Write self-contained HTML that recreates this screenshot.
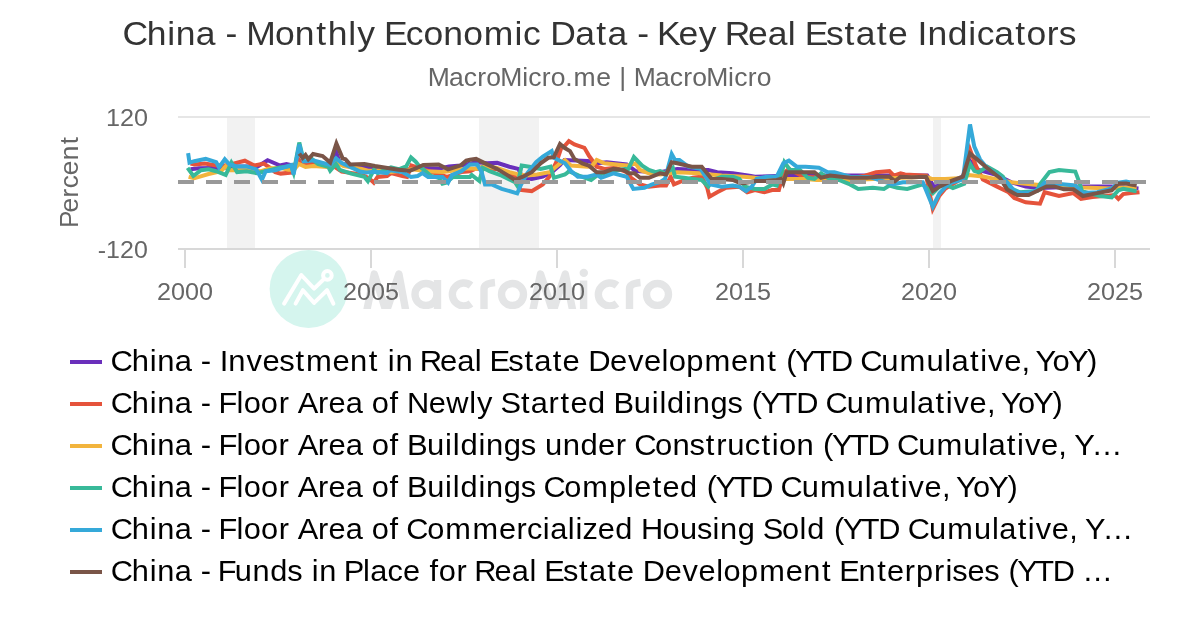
<!DOCTYPE html>
<html><head><meta charset="utf-8"><style>
html,body{margin:0;padding:0;background:#fff;width:1200px;height:630px;overflow:hidden}
svg{display:block;will-change:transform}
text{font-family:"Liberation Sans", sans-serif}
</style></head><body>
<svg width="1200" height="630" viewBox="0 0 1200 630">
<rect width="1200" height="630" fill="#fff"/>
<rect x="227" y="117" width="28" height="132" fill="#f2f2f2"/>
<rect x="479" y="117" width="60" height="132" fill="#f2f2f2"/>
<rect x="933" y="117" width="8" height="132" fill="#f2f2f2"/>
<rect x="178" y="116" width="972" height="2" fill="#e6e6e6"/>
<rect x="178" y="248" width="972" height="2" fill="#d8d8d8"/>
<rect x="184" y="250" width="2" height="18" fill="#d8d8d8"/>
<rect x="370" y="250" width="2" height="18" fill="#d8d8d8"/>
<rect x="556" y="250" width="2" height="18" fill="#d8d8d8"/>
<rect x="742" y="250" width="2" height="18" fill="#d8d8d8"/>
<rect x="928" y="250" width="2" height="18" fill="#d8d8d8"/>
<rect x="1114" y="250" width="2" height="18" fill="#d8d8d8"/>
<g id="wm">
<circle cx="308.6" cy="289" r="39" fill="#d5f5ee"/>
<g fill="none" stroke="#fff" stroke-width="4" stroke-linecap="round" stroke-linejoin="round"><path d="M284.1 303.6 L301.3 275 L314.1 288.6 L323.5 279.5"/><path d="M295.6 303.6 L302.9 290.2 L314.1 302.9 L327 290.2 L333.4 303.6"/><circle cx="327.4" cy="275.4" r="4.3"/></g>
<defs><clipPath id="wmc"><rect x="300" y="250" width="400" height="59"/></clipPath></defs>
<g clip-path="url(#wmc)" fill="none" stroke="#e4e5e6" stroke-width="7.4" stroke-linejoin="round" stroke-linecap="butt"><path d="M366.5 312 L374.3 274 L386.2 312 L398.9 274 L406 312"/><circle cx="426" cy="294.5" r="11"/><path d="M437.5 280 V312"/><path d="M471 285.5 A11.5 11.5 0 1 0 471 303.5"/><path d="M484 312 V289 Q484 283.5 495 282.5"/><circle cx="512.5" cy="294.5" r="11"/><path d="M532.5 312 L540.5 274 L552.9 312 L565.3 274 L573 312"/><path d="M583.6 280.5 V312"/><path d="M617 285.5 A11.5 11.5 0 1 0 617 303.5"/><path d="M629.5 312 V289 Q629.5 283.5 640.5 282.5"/><circle cx="657.5" cy="294.5" r="11"/></g><circle cx="583.8" cy="272.9" r="4.2" fill="#e4e5e6"/>
</g>
<path d="M190.5 169.3 L199.0 168.3 L213.3 167.9 L220.0 169.3 L229.5 166.4 L246.7 166.4 L256.2 167.4 L267.6 160.2 L280.0 165.5 L286.4 164.0 L295.0 166.0 L299.3 163.0 L306.0 164.0 L315.0 165.0 L330.0 164.5 L336.4 152.6 L339.8 163.1 L360.7 167.4 L370.2 168.3 L389.0 169.3 L410.0 169.0 L427.1 168.3 L438.6 168.8 L449.0 166.4 L460.5 165.5 L470.0 163.6 L476.1 162.2 L487.2 163.3 L497.2 162.8 L509.4 166.7 L518.3 168.9 L522.8 177.8 L531.7 178.9 L542.8 176.7 L552.0 172.0 L560.0 165.0 L564.4 160.0 L587.8 161.1 L596.7 163.3 L606.7 162.2 L626.7 164.4 L635.6 171.1 L660.0 172.2 L677.2 168.9 L699.4 170.0 L708.3 170.0 L717.2 172.2 L732.8 173.3 L749.4 175.6 L755.0 176.7 L792.2 175.6 L844.4 175.6 L856.1 175.6 L927.2 175.6 L933.9 186.7 L945.0 184.4 L962.9 176.6 L970.0 160.9 L977.1 169.4 L997.1 175.1 L1011.4 182.3 L1025.7 186.6 L1040.0 188.0 L1081.0 186.4 L1111.7 186.4 L1138.5 188.4" fill="none" stroke="#6a2fbb" stroke-width="4" stroke-linejoin="miter" stroke-linecap="butt"/>
<path d="M190.5 163.6 L194.3 164.5 L204.8 163.6 L216.2 165.5 L224.8 165.5 L233.3 163.6 L244.8 160.7 L254.3 165.5 L263.8 163.6 L269.5 167.4 L275.2 172.1 L280.7 173.6 L291.2 172.6 L297.9 158.3 L300.7 162.1 L306.4 164.0 L315.0 164.0 L332.1 165.0 L341.7 171.7 L356.0 173.6 L365.5 176.4 L370.2 179.3 L373.8 182.6 L377.6 176.9 L387.1 176.0 L391.0 173.1 L402.4 176.0 L407.1 176.9 L411.4 165.5 L425.0 170.0 L447.1 176.9 L461.4 172.1 L470.0 171.2 L476.0 168.5 L497.0 169.0 L509.0 173.0 L515.0 177.0 L520.6 190.0 L531.7 191.1 L542.8 184.4 L549.4 176.7 L557.2 160.0 L561.7 146.7 L565.0 145.6 L568.9 141.1 L574.4 144.4 L584.4 147.8 L588.9 155.6 L596.7 166.7 L604.4 168.9 L615.6 167.8 L626.7 172.2 L631.1 177.8 L640.0 184.4 L648.9 186.7 L660.0 185.6 L666.1 185.6 L670.6 176.7 L673.9 184.4 L681.7 181.1 L692.8 177.8 L701.7 176.7 L707.2 187.8 L709.4 196.7 L717.2 192.2 L726.1 187.8 L739.4 186.7 L747.2 192.2 L755.0 190.0 L764.4 192.2 L772.2 190.0 L778.9 190.0 L783.3 173.3 L788.9 168.9 L803.3 176.7 L850.0 178.9 L859.4 176.7 L865.0 175.6 L876.1 172.2 L889.4 171.1 L893.9 175.6 L900.6 173.3 L905.0 174.4 L926.1 175.6 L932.8 208.9 L939.4 195.6 L945.0 188.9 L962.9 178.0 L970.0 149.5 L975.7 165.1 L982.9 179.4 L997.1 186.6 L1008.6 192.3 L1014.3 198.0 L1025.7 202.3 L1040.0 203.7 L1044.6 192.2 L1059.0 196.0 L1073.4 193.1 L1081.0 198.9 L1092.5 197.0 L1114.6 195.1 L1118.4 198.9 L1123.2 194.1 L1130.9 193.1 L1139.5 192.2" fill="none" stroke="#e5533b" stroke-width="4" stroke-linejoin="miter" stroke-linecap="butt"/>
<path d="M188.6 176.9 L194.3 178.3 L208.6 174.0 L221.0 171.2 L225.7 166.4 L229.5 170.2 L237.1 170.2 L246.7 170.2 L261.0 171.2 L270.5 168.3 L280.0 167.9 L288.3 169.8 L294.0 169.8 L298.8 164.0 L305.5 166.9 L313.1 166.0 L327.4 166.9 L336.0 162.1 L343.6 166.0 L360.7 168.8 L368.3 170.7 L375.0 170.7 L379.5 170.2 L391.0 172.1 L411.9 169.3 L427.1 171.2 L442.4 172.1 L449.0 171.2 L460.5 169.3 L470.0 168.3 L476.1 168.9 L481.7 166.7 L496.1 167.8 L509.4 172.2 L518.3 174.4 L527.2 175.6 L537.2 174.4 L549.4 172.2 L556.1 166.7 L561.7 162.2 L565.0 160.0 L571.1 165.6 L587.8 166.7 L592.2 165.6 L596.7 160.0 L604.4 163.3 L626.7 165.6 L635.6 163.3 L640.0 170.0 L648.9 173.3 L660.0 174.4 L669.4 173.3 L677.2 172.2 L699.4 173.3 L710.6 174.4 L721.7 175.6 L743.9 176.7 L755.0 177.8 L776.7 178.9 L786.7 178.9 L805.6 178.9 L816.7 180.0 L850.0 180.0 L926.1 176.7 L931.7 178.9 L945.0 178.9 L962.9 178.0 L968.6 175.1 L982.9 176.6 L997.1 179.4 L1011.4 182.3 L1025.7 183.7 L1040.0 185.1 L1044.6 183.6 L1083.0 187.4 L1111.7 188.4 L1121.3 187.4 L1136.6 188.4" fill="none" stroke="#f2b43d" stroke-width="4" stroke-linejoin="miter" stroke-linecap="butt"/>
<path d="M187.6 167.9 L193.3 176.0 L201.0 170.2 L208.6 169.3 L216.2 171.2 L225.7 175.0 L231.4 162.6 L237.1 172.1 L246.7 171.2 L256.2 173.1 L265.7 171.2 L280.0 167.4 L291.2 166.0 L293.6 172.6 L299.3 142.5 L302.6 156.4 L311.2 158.3 L317.9 164.0 L328.3 166.9 L330.2 170.7 L336.0 164.0 L339.8 169.8 L351.2 173.6 L364.5 176.9 L367.9 181.2 L374.0 169.8 L377.6 173.1 L391.0 167.4 L398.6 169.3 L406.2 166.4 L411.0 157.5 L415.7 161.7 L419.5 166.4 L423.3 169.3 L431.0 176.0 L438.6 177.9 L442.4 183.6 L446.2 182.6 L452.9 176.9 L470.0 176.9 L471.7 175.0 L479.4 181.1 L482.8 167.8 L489.4 171.1 L501.7 175.6 L515.0 182.2 L517.2 185.6 L521.7 165.6 L529.4 166.7 L540.6 168.9 L550.6 166.7 L553.9 177.8 L565.0 174.4 L566.7 173.3 L568.9 171.1 L578.9 175.6 L591.1 180.0 L596.7 175.6 L606.7 172.2 L625.6 168.9 L627.8 170.0 L633.9 157.0 L642.2 165.6 L648.9 170.0 L655.6 172.2 L660.0 171.1 L666.1 173.3 L672.8 167.8 L675.0 176.7 L683.9 177.8 L692.8 178.9 L701.7 180.0 L708.3 186.7 L712.8 180.0 L721.7 176.7 L732.8 176.7 L739.4 178.9 L745.0 186.7 L755.0 188.9 L764.4 188.9 L772.2 184.4 L776.7 185.6 L782.2 171.1 L784.4 162.2 L790.0 170.0 L800.0 170.0 L807.8 177.8 L814.4 178.9 L821.1 173.3 L827.8 177.8 L838.9 180.0 L850.0 184.4 L858.3 188.9 L872.8 187.8 L883.9 188.9 L889.4 185.6 L897.2 187.8 L907.2 188.9 L922.8 184.4 L932.8 193.3 L939.4 186.7 L945.0 184.4 L952.9 188.0 L964.3 183.7 L970.0 163.7 L974.3 170.9 L978.6 172.3 L987.1 166.6 L997.1 172.3 L1002.9 176.6 L1010.0 188.0 L1020.0 192.3 L1037.1 190.9 L1039.8 184.5 L1049.4 172.1 L1059.0 170.1 L1075.3 171.6 L1079.1 181.6 L1082.0 191.2 L1092.5 194.1 L1100.2 196.0 L1111.7 197.5 L1118.4 190.3 L1123.2 188.8 L1136.6 191.2" fill="none" stroke="#38b999" stroke-width="4" stroke-linejoin="miter" stroke-linecap="butt"/>
<path d="M188.1 153.1 L189.5 162.6 L194.3 161.2 L205.7 158.8 L216.2 162.1 L219.0 167.4 L224.8 159.3 L229.5 164.5 L237.1 166.4 L246.7 166.4 L256.2 169.3 L261.9 179.8 L265.7 171.2 L275.2 170.2 L291.2 165.0 L293.6 174.5 L299.3 144.5 L303.6 161.2 L306.4 161.2 L313.1 160.2 L330.2 165.0 L336.0 158.3 L341.7 163.1 L350.2 166.9 L360.7 171.7 L366.4 172.6 L375.0 171.7 L387.1 173.1 L390.0 170.2 L402.4 172.1 L411.0 176.9 L417.6 176.0 L422.4 173.1 L428.1 176.9 L442.4 176.9 L448.1 182.6 L451.9 175.0 L461.4 171.2 L470.0 164.5 L477.2 164.4 L481.7 172.2 L485.0 184.4 L491.7 184.4 L501.7 188.9 L517.2 193.3 L520.6 185.6 L527.2 173.3 L536.1 162.2 L542.8 156.7 L551.7 151.1 L553.9 157.8 L565.0 163.3 L571.1 171.1 L577.8 176.7 L587.8 176.7 L596.7 174.4 L601.1 177.8 L604.4 176.7 L613.3 173.3 L626.7 176.7 L633.3 188.9 L644.4 187.8 L652.2 184.4 L660.0 182.2 L665.0 178.9 L671.7 154.0 L675.0 160.0 L679.4 160.0 L688.3 166.7 L700.6 168.9 L710.6 184.4 L721.7 186.7 L732.8 185.6 L739.4 186.7 L746.1 191.1 L751.7 186.7 L756.7 178.9 L766.7 176.7 L776.7 176.7 L783.3 163.3 L788.9 160.6 L796.7 166.7 L805.6 166.7 L818.9 167.8 L827.8 172.2 L834.4 172.2 L850.0 176.7 L870.0 177.0 L892.8 184.4 L902.8 182.2 L922.8 182.2 L932.8 206.7 L939.4 193.3 L948.6 183.7 L962.9 179.4 L970.0 124.4 L974.3 146.6 L980.0 159.4 L987.1 168.0 L997.1 175.1 L1007.1 182.3 L1014.3 190.9 L1021.4 193.0 L1032.9 192.3 L1040.0 188.0 L1044.6 182.6 L1054.2 183.6 L1075.3 185.5 L1083.0 193.1 L1097.3 192.2 L1111.7 188.4 L1118.4 182.6 L1126.1 181.6 L1136.6 183.6" fill="none" stroke="#35a9d9" stroke-width="4" stroke-linejoin="miter" stroke-linecap="butt"/>
<path d="M299.3 153.6 L302.6 157.9 L305.5 155.0 L308.3 159.3 L313.1 154.0 L322.6 156.0 L330.2 162.6 L336.4 143.5 L342.6 158.3 L345.5 159.3 L350.2 164.5 L364.5 164.0 L375.0 166.0 L389.0 168.3 L398.6 169.8 L410.0 170.7 L415.7 168.3 L423.3 165.0 L438.6 164.5 L448.1 169.3 L460.5 165.5 L466.2 160.7 L470.0 159.8 L476.1 158.9 L487.2 164.4 L497.2 168.9 L506.1 174.4 L515.0 180.0 L522.8 176.7 L531.7 172.2 L540.6 163.3 L548.3 157.8 L553.9 157.2 L560.0 144.0 L564.4 147.8 L570.0 151.1 L574.4 158.9 L582.2 163.3 L588.9 165.6 L596.7 172.2 L604.4 172.2 L613.3 168.9 L623.3 170.0 L628.9 173.3 L634.4 173.3 L640.0 177.8 L648.9 177.8 L660.0 173.3 L666.1 174.4 L671.7 162.2 L677.2 163.3 L691.7 166.7 L701.7 166.7 L711.7 178.9 L721.7 178.9 L732.8 180.0 L738.3 182.2 L743.9 183.3 L755.6 181.1 L765.6 181.1 L776.7 180.0 L781.1 178.9 L783.3 183.3 L786.7 172.2 L798.9 172.2 L814.4 172.2 L821.1 177.8 L830.0 175.6 L850.0 177.8 L856.1 177.8 L867.2 177.8 L878.3 176.7 L889.4 176.7 L895.0 181.1 L900.6 176.7 L911.7 177.2 L926.1 176.7 L932.8 191.1 L939.4 186.7 L951.4 180.9 L962.9 176.6 L970.0 153.5 L977.1 159.4 L987.1 168.0 L1000.0 178.0 L1007.1 189.4 L1017.1 195.1 L1028.6 195.1 L1046.5 186.4 L1054.2 186.4 L1063.8 189.3 L1073.4 189.3 L1082.9 196.0 L1097.3 193.1 L1111.7 190.3 L1118.4 183.6 L1126.1 183.6 L1136.6 185.5" fill="none" stroke="#7a5548" stroke-width="4" stroke-linejoin="miter" stroke-linecap="butt"/>
<path d="M178 182 H1150" stroke="#999" stroke-width="4" stroke-dasharray="16 12"/>
<g font-size="33.60" fill="#333" ><text x="122.43" y="44.50" textLength="25.63" lengthAdjust="spacingAndGlyphs">C</text><text x="146.69" y="44.50" textLength="19.74" lengthAdjust="spacingAndGlyphs">h</text><text x="167.21" y="44.50" textLength="7.89" lengthAdjust="spacingAndGlyphs">i</text><text x="175.86" y="44.50" textLength="19.74" lengthAdjust="spacingAndGlyphs">n</text><text x="195.81" y="44.50" textLength="19.74" lengthAdjust="spacingAndGlyphs">a</text><text x="225.52" y="44.50" textLength="11.82" lengthAdjust="spacingAndGlyphs">-</text><text x="246.39" y="44.50" textLength="29.57" lengthAdjust="spacingAndGlyphs">M</text><text x="274.90" y="44.50" textLength="19.74" lengthAdjust="spacingAndGlyphs">o</text><text x="294.83" y="44.50" textLength="19.74" lengthAdjust="spacingAndGlyphs">n</text><text x="316.18" y="44.50" textLength="9.87" lengthAdjust="spacingAndGlyphs">t</text><text x="327.66" y="44.50" textLength="19.74" lengthAdjust="spacingAndGlyphs">h</text><text x="348.17" y="44.50" textLength="7.89" lengthAdjust="spacingAndGlyphs">l</text><text x="357.16" y="44.50" textLength="17.75" lengthAdjust="spacingAndGlyphs">y</text><text x="383.94" y="44.50" textLength="23.68" lengthAdjust="spacingAndGlyphs">E</text><text x="405.81" y="44.50" textLength="17.75" lengthAdjust="spacingAndGlyphs">c</text><text x="423.40" y="44.50" textLength="19.74" lengthAdjust="spacingAndGlyphs">o</text><text x="443.33" y="44.50" textLength="19.74" lengthAdjust="spacingAndGlyphs">n</text><text x="463.26" y="44.50" textLength="19.74" lengthAdjust="spacingAndGlyphs">o</text><text x="483.72" y="44.50" textLength="29.57" lengthAdjust="spacingAndGlyphs">m</text><text x="514.60" y="44.50" textLength="7.89" lengthAdjust="spacingAndGlyphs">i</text><text x="522.91" y="44.50" textLength="17.75" lengthAdjust="spacingAndGlyphs">c</text><text x="550.25" y="44.50" textLength="25.63" lengthAdjust="spacingAndGlyphs">D</text><text x="575.32" y="44.50" textLength="19.74" lengthAdjust="spacingAndGlyphs">a</text><text x="596.34" y="44.50" textLength="9.87" lengthAdjust="spacingAndGlyphs">t</text><text x="607.48" y="44.50" textLength="19.74" lengthAdjust="spacingAndGlyphs">a</text><text x="637.19" y="44.50" textLength="11.82" lengthAdjust="spacingAndGlyphs">-</text><text x="656.90" y="44.50" textLength="23.68" lengthAdjust="spacingAndGlyphs">K</text><text x="678.41" y="44.50" textLength="19.74" lengthAdjust="spacingAndGlyphs">e</text><text x="698.72" y="44.50" textLength="17.75" lengthAdjust="spacingAndGlyphs">y</text><text x="724.82" y="44.50" textLength="25.63" lengthAdjust="spacingAndGlyphs">R</text><text x="748.00" y="44.50" textLength="19.74" lengthAdjust="spacingAndGlyphs">e</text><text x="767.65" y="44.50" textLength="19.74" lengthAdjust="spacingAndGlyphs">a</text><text x="787.83" y="44.50" textLength="7.89" lengthAdjust="spacingAndGlyphs">l</text><text x="804.66" y="44.50" textLength="23.68" lengthAdjust="spacingAndGlyphs">E</text><text x="826.07" y="44.50" textLength="17.75" lengthAdjust="spacingAndGlyphs">s</text><text x="844.62" y="44.50" textLength="9.87" lengthAdjust="spacingAndGlyphs">t</text><text x="855.76" y="44.50" textLength="19.74" lengthAdjust="spacingAndGlyphs">a</text><text x="876.78" y="44.50" textLength="9.87" lengthAdjust="spacingAndGlyphs">t</text><text x="887.96" y="44.50" textLength="19.74" lengthAdjust="spacingAndGlyphs">e</text><text x="917.63" y="44.50" textLength="9.87" lengthAdjust="spacingAndGlyphs">I</text><text x="927.55" y="44.50" textLength="19.74" lengthAdjust="spacingAndGlyphs">n</text><text x="947.85" y="44.50" textLength="19.74" lengthAdjust="spacingAndGlyphs">d</text><text x="968.38" y="44.50" textLength="7.89" lengthAdjust="spacingAndGlyphs">i</text><text x="976.69" y="44.50" textLength="17.75" lengthAdjust="spacingAndGlyphs">c</text><text x="994.29" y="44.50" textLength="19.74" lengthAdjust="spacingAndGlyphs">a</text><text x="1015.31" y="44.50" textLength="9.87" lengthAdjust="spacingAndGlyphs">t</text><text x="1026.43" y="44.50" textLength="19.74" lengthAdjust="spacingAndGlyphs">o</text><text x="1046.76" y="44.50" textLength="11.82" lengthAdjust="spacingAndGlyphs">r</text><text x="1058.71" y="44.50" textLength="17.75" lengthAdjust="spacingAndGlyphs">s</text></g>
<g font-size="25.20" fill="#666" ><text x="427.73" y="85.80" textLength="22.09" lengthAdjust="spacingAndGlyphs">M</text><text x="449.11" y="85.80" textLength="14.75" lengthAdjust="spacingAndGlyphs">a</text><text x="463.80" y="85.80" textLength="13.26" lengthAdjust="spacingAndGlyphs">c</text><text x="477.29" y="85.80" textLength="8.83" lengthAdjust="spacingAndGlyphs">r</text><text x="486.34" y="85.80" textLength="14.75" lengthAdjust="spacingAndGlyphs">o</text><text x="500.36" y="85.80" textLength="22.09" lengthAdjust="spacingAndGlyphs">M</text><text x="522.15" y="85.80" textLength="5.89" lengthAdjust="spacingAndGlyphs">i</text><text x="528.39" y="85.80" textLength="13.26" lengthAdjust="spacingAndGlyphs">c</text><text x="541.88" y="85.80" textLength="8.83" lengthAdjust="spacingAndGlyphs">r</text><text x="550.72" y="85.80" textLength="14.75" lengthAdjust="spacingAndGlyphs">o</text><text x="565.35" y="85.80" textLength="7.37" lengthAdjust="spacingAndGlyphs">.</text><text x="573.49" y="85.80" textLength="22.09" lengthAdjust="spacingAndGlyphs">m</text><text x="596.24" y="85.80" textLength="14.75" lengthAdjust="spacingAndGlyphs">e</text><text x="619.23" y="85.80" textLength="6.89" lengthAdjust="spacingAndGlyphs">|</text><text x="633.66" y="85.80" textLength="22.09" lengthAdjust="spacingAndGlyphs">M</text><text x="655.03" y="85.80" textLength="14.75" lengthAdjust="spacingAndGlyphs">a</text><text x="669.72" y="85.80" textLength="13.26" lengthAdjust="spacingAndGlyphs">c</text><text x="683.21" y="85.80" textLength="8.83" lengthAdjust="spacingAndGlyphs">r</text><text x="692.26" y="85.80" textLength="14.75" lengthAdjust="spacingAndGlyphs">o</text><text x="706.28" y="85.80" textLength="22.09" lengthAdjust="spacingAndGlyphs">M</text><text x="728.07" y="85.80" textLength="5.89" lengthAdjust="spacingAndGlyphs">i</text><text x="734.32" y="85.80" textLength="13.26" lengthAdjust="spacingAndGlyphs">c</text><text x="747.80" y="85.80" textLength="8.83" lengthAdjust="spacingAndGlyphs">r</text><text x="756.85" y="85.80" textLength="14.75" lengthAdjust="spacingAndGlyphs">o</text></g>
<g font-size="23.10" fill="#666" ><text x="105.99" y="126.00" textLength="14.01" lengthAdjust="spacingAndGlyphs">1</text><text x="119.99" y="126.00" textLength="14.01" lengthAdjust="spacingAndGlyphs">2</text><text x="133.99" y="126.00" textLength="14.01" lengthAdjust="spacingAndGlyphs">0</text></g>
<g font-size="23.10" fill="#666" ><text x="97.88" y="258.00" textLength="8.32" lengthAdjust="spacingAndGlyphs">-</text><text x="106.06" y="258.00" textLength="13.89" lengthAdjust="spacingAndGlyphs">1</text><text x="120.05" y="258.00" textLength="13.89" lengthAdjust="spacingAndGlyphs">2</text><text x="134.05" y="258.00" textLength="13.89" lengthAdjust="spacingAndGlyphs">0</text></g>
<g font-size="25.20" fill="#666" transform="translate(78,181) rotate(-90)"><text x="-47.09" y="0.00" textLength="17.50" lengthAdjust="spacingAndGlyphs">P</text><text x="-31.45" y="0.00" textLength="14.59" lengthAdjust="spacingAndGlyphs">e</text><text x="-16.47" y="0.00" textLength="8.74" lengthAdjust="spacingAndGlyphs">r</text><text x="-7.39" y="0.00" textLength="13.11" lengthAdjust="spacingAndGlyphs">c</text><text x="5.85" y="0.00" textLength="14.59" lengthAdjust="spacingAndGlyphs">e</text><text x="20.84" y="0.00" textLength="14.59" lengthAdjust="spacingAndGlyphs">n</text><text x="36.80" y="0.00" textLength="7.29" lengthAdjust="spacingAndGlyphs">t</text></g>
<g font-size="23.10" fill="#666" ><text x="156.99" y="300.20" textLength="14.01" lengthAdjust="spacingAndGlyphs">2</text><text x="170.99" y="300.20" textLength="14.01" lengthAdjust="spacingAndGlyphs">0</text><text x="184.99" y="300.20" textLength="14.01" lengthAdjust="spacingAndGlyphs">0</text><text x="198.99" y="300.20" textLength="14.01" lengthAdjust="spacingAndGlyphs">0</text></g>
<g font-size="23.10" fill="#666" ><text x="342.99" y="300.20" textLength="14.01" lengthAdjust="spacingAndGlyphs">2</text><text x="356.99" y="300.20" textLength="14.01" lengthAdjust="spacingAndGlyphs">0</text><text x="370.99" y="300.20" textLength="14.01" lengthAdjust="spacingAndGlyphs">0</text><text x="384.99" y="300.20" textLength="14.01" lengthAdjust="spacingAndGlyphs">5</text></g>
<g font-size="23.10" fill="#666" ><text x="528.99" y="300.20" textLength="14.01" lengthAdjust="spacingAndGlyphs">2</text><text x="542.99" y="300.20" textLength="14.01" lengthAdjust="spacingAndGlyphs">0</text><text x="556.99" y="300.20" textLength="14.01" lengthAdjust="spacingAndGlyphs">1</text><text x="570.99" y="300.20" textLength="14.01" lengthAdjust="spacingAndGlyphs">0</text></g>
<g font-size="23.10" fill="#666" ><text x="714.99" y="300.20" textLength="14.01" lengthAdjust="spacingAndGlyphs">2</text><text x="728.99" y="300.20" textLength="14.01" lengthAdjust="spacingAndGlyphs">0</text><text x="742.99" y="300.20" textLength="14.01" lengthAdjust="spacingAndGlyphs">1</text><text x="756.99" y="300.20" textLength="14.01" lengthAdjust="spacingAndGlyphs">5</text></g>
<g font-size="23.10" fill="#666" ><text x="900.99" y="300.20" textLength="14.01" lengthAdjust="spacingAndGlyphs">2</text><text x="914.99" y="300.20" textLength="14.01" lengthAdjust="spacingAndGlyphs">0</text><text x="928.99" y="300.20" textLength="14.01" lengthAdjust="spacingAndGlyphs">2</text><text x="942.99" y="300.20" textLength="14.01" lengthAdjust="spacingAndGlyphs">0</text></g>
<g font-size="23.10" fill="#666" ><text x="1086.99" y="300.20" textLength="14.01" lengthAdjust="spacingAndGlyphs">2</text><text x="1100.99" y="300.20" textLength="14.01" lengthAdjust="spacingAndGlyphs">0</text><text x="1114.99" y="300.20" textLength="14.01" lengthAdjust="spacingAndGlyphs">2</text><text x="1128.99" y="300.20" textLength="14.01" lengthAdjust="spacingAndGlyphs">5</text></g>
<rect x="70" y="360" width="32" height="4" fill="#6a2fbb"/>
<g font-size="29.40" fill="#000" ><text x="110.59" y="370.50" textLength="22.39" lengthAdjust="spacingAndGlyphs">C</text><text x="131.80" y="370.50" textLength="17.24" lengthAdjust="spacingAndGlyphs">h</text><text x="149.74" y="370.50" textLength="6.89" lengthAdjust="spacingAndGlyphs">i</text><text x="157.32" y="370.50" textLength="17.24" lengthAdjust="spacingAndGlyphs">n</text><text x="174.78" y="370.50" textLength="17.24" lengthAdjust="spacingAndGlyphs">a</text><text x="200.77" y="370.50" textLength="10.33" lengthAdjust="spacingAndGlyphs">-</text><text x="219.71" y="370.50" textLength="8.62" lengthAdjust="spacingAndGlyphs">I</text><text x="228.39" y="370.50" textLength="17.24" lengthAdjust="spacingAndGlyphs">n</text><text x="246.42" y="370.50" textLength="15.50" lengthAdjust="spacingAndGlyphs">v</text><text x="262.45" y="370.50" textLength="17.24" lengthAdjust="spacingAndGlyphs">e</text><text x="279.23" y="370.50" textLength="15.50" lengthAdjust="spacingAndGlyphs">s</text><text x="295.46" y="370.50" textLength="8.62" lengthAdjust="spacingAndGlyphs">t</text><text x="305.98" y="370.50" textLength="25.83" lengthAdjust="spacingAndGlyphs">m</text><text x="332.52" y="370.50" textLength="17.24" lengthAdjust="spacingAndGlyphs">e</text><text x="350.00" y="370.50" textLength="17.24" lengthAdjust="spacingAndGlyphs">n</text><text x="368.68" y="370.50" textLength="8.62" lengthAdjust="spacingAndGlyphs">t</text><text x="387.83" y="370.50" textLength="6.89" lengthAdjust="spacingAndGlyphs">i</text><text x="395.41" y="370.50" textLength="17.24" lengthAdjust="spacingAndGlyphs">n</text><text x="419.71" y="370.50" textLength="22.39" lengthAdjust="spacingAndGlyphs">R</text><text x="440.00" y="370.50" textLength="17.24" lengthAdjust="spacingAndGlyphs">e</text><text x="457.18" y="370.50" textLength="17.24" lengthAdjust="spacingAndGlyphs">a</text><text x="474.83" y="370.50" textLength="6.89" lengthAdjust="spacingAndGlyphs">l</text><text x="489.58" y="370.50" textLength="20.68" lengthAdjust="spacingAndGlyphs">E</text><text x="508.30" y="370.50" textLength="15.50" lengthAdjust="spacingAndGlyphs">s</text><text x="524.53" y="370.50" textLength="8.62" lengthAdjust="spacingAndGlyphs">t</text><text x="534.28" y="370.50" textLength="17.24" lengthAdjust="spacingAndGlyphs">a</text><text x="552.66" y="370.50" textLength="8.62" lengthAdjust="spacingAndGlyphs">t</text><text x="562.45" y="370.50" textLength="17.24" lengthAdjust="spacingAndGlyphs">e</text><text x="588.17" y="370.50" textLength="22.39" lengthAdjust="spacingAndGlyphs">D</text><text x="610.14" y="370.50" textLength="17.24" lengthAdjust="spacingAndGlyphs">e</text><text x="627.91" y="370.50" textLength="15.50" lengthAdjust="spacingAndGlyphs">v</text><text x="643.93" y="370.50" textLength="17.24" lengthAdjust="spacingAndGlyphs">e</text><text x="661.62" y="370.50" textLength="6.89" lengthAdjust="spacingAndGlyphs">l</text><text x="668.89" y="370.50" textLength="17.24" lengthAdjust="spacingAndGlyphs">o</text><text x="686.35" y="370.50" textLength="17.24" lengthAdjust="spacingAndGlyphs">p</text><text x="704.58" y="370.50" textLength="25.83" lengthAdjust="spacingAndGlyphs">m</text><text x="731.12" y="370.50" textLength="17.24" lengthAdjust="spacingAndGlyphs">e</text><text x="748.60" y="370.50" textLength="17.24" lengthAdjust="spacingAndGlyphs">n</text><text x="767.29" y="370.50" textLength="8.62" lengthAdjust="spacingAndGlyphs">t</text><text x="786.27" y="370.50" textLength="10.33" lengthAdjust="spacingAndGlyphs">(</text><text x="795.12" y="370.50" textLength="20.68" lengthAdjust="spacingAndGlyphs">Y</text><text x="813.09" y="370.50" textLength="18.94" lengthAdjust="spacingAndGlyphs">T</text><text x="830.70" y="370.50" textLength="22.39" lengthAdjust="spacingAndGlyphs">D</text><text x="860.15" y="370.50" textLength="22.39" lengthAdjust="spacingAndGlyphs">C</text><text x="881.38" y="370.50" textLength="17.24" lengthAdjust="spacingAndGlyphs">u</text><text x="899.59" y="370.50" textLength="25.83" lengthAdjust="spacingAndGlyphs">m</text><text x="926.40" y="370.50" textLength="17.24" lengthAdjust="spacingAndGlyphs">u</text><text x="944.34" y="370.50" textLength="6.89" lengthAdjust="spacingAndGlyphs">l</text><text x="951.64" y="370.50" textLength="17.24" lengthAdjust="spacingAndGlyphs">a</text><text x="970.01" y="370.50" textLength="8.62" lengthAdjust="spacingAndGlyphs">t</text><text x="980.25" y="370.50" textLength="6.89" lengthAdjust="spacingAndGlyphs">i</text><text x="988.13" y="370.50" textLength="15.50" lengthAdjust="spacingAndGlyphs">v</text><text x="1004.15" y="370.50" textLength="17.24" lengthAdjust="spacingAndGlyphs">e</text><text x="1021.53" y="370.50" textLength="8.62" lengthAdjust="spacingAndGlyphs">,</text><text x="1035.54" y="370.50" textLength="20.68" lengthAdjust="spacingAndGlyphs">Y</text><text x="1052.51" y="370.50" textLength="17.24" lengthAdjust="spacingAndGlyphs">o</text><text x="1067.91" y="370.50" textLength="20.68" lengthAdjust="spacingAndGlyphs">Y</text><text x="1087.10" y="370.50" textLength="10.33" lengthAdjust="spacingAndGlyphs">)</text></g>
<rect x="70" y="402" width="32" height="4" fill="#e5533b"/>
<g font-size="29.40" fill="#000" ><text x="110.66" y="412.50" textLength="22.24" lengthAdjust="spacingAndGlyphs">C</text><text x="131.86" y="412.50" textLength="17.13" lengthAdjust="spacingAndGlyphs">h</text><text x="149.77" y="412.50" textLength="6.84" lengthAdjust="spacingAndGlyphs">i</text><text x="157.38" y="412.50" textLength="17.13" lengthAdjust="spacingAndGlyphs">n</text><text x="174.83" y="412.50" textLength="17.13" lengthAdjust="spacingAndGlyphs">a</text><text x="200.80" y="412.50" textLength="10.26" lengthAdjust="spacingAndGlyphs">-</text><text x="218.53" y="412.50" textLength="18.82" lengthAdjust="spacingAndGlyphs">F</text><text x="236.46" y="412.50" textLength="6.84" lengthAdjust="spacingAndGlyphs">l</text><text x="243.77" y="412.50" textLength="17.13" lengthAdjust="spacingAndGlyphs">o</text><text x="260.89" y="412.50" textLength="17.13" lengthAdjust="spacingAndGlyphs">o</text><text x="278.66" y="412.50" textLength="10.26" lengthAdjust="spacingAndGlyphs">r</text><text x="297.75" y="412.50" textLength="20.54" lengthAdjust="spacingAndGlyphs">A</text><text x="317.92" y="412.50" textLength="10.26" lengthAdjust="spacingAndGlyphs">r</text><text x="328.54" y="412.50" textLength="17.13" lengthAdjust="spacingAndGlyphs">e</text><text x="345.74" y="412.50" textLength="17.13" lengthAdjust="spacingAndGlyphs">a</text><text x="371.78" y="412.50" textLength="17.13" lengthAdjust="spacingAndGlyphs">o</text><text x="389.56" y="412.50" textLength="8.56" lengthAdjust="spacingAndGlyphs">f</text><text x="407.02" y="412.50" textLength="22.24" lengthAdjust="spacingAndGlyphs">N</text><text x="428.66" y="412.50" textLength="17.13" lengthAdjust="spacingAndGlyphs">e</text><text x="446.17" y="412.50" textLength="22.24" lengthAdjust="spacingAndGlyphs">w</text><text x="469.21" y="412.50" textLength="6.84" lengthAdjust="spacingAndGlyphs">l</text><text x="477.10" y="412.50" textLength="15.40" lengthAdjust="spacingAndGlyphs">y</text><text x="500.60" y="412.50" textLength="20.54" lengthAdjust="spacingAndGlyphs">S</text><text x="520.97" y="412.50" textLength="8.56" lengthAdjust="spacingAndGlyphs">t</text><text x="530.75" y="412.50" textLength="17.13" lengthAdjust="spacingAndGlyphs">a</text><text x="548.53" y="412.50" textLength="10.26" lengthAdjust="spacingAndGlyphs">r</text><text x="560.62" y="412.50" textLength="8.56" lengthAdjust="spacingAndGlyphs">t</text><text x="570.44" y="412.50" textLength="17.13" lengthAdjust="spacingAndGlyphs">e</text><text x="587.93" y="412.50" textLength="17.13" lengthAdjust="spacingAndGlyphs">d</text><text x="613.62" y="412.50" textLength="20.54" lengthAdjust="spacingAndGlyphs">B</text><text x="633.81" y="412.50" textLength="17.13" lengthAdjust="spacingAndGlyphs">u</text><text x="651.71" y="412.50" textLength="6.84" lengthAdjust="spacingAndGlyphs">i</text><text x="659.49" y="412.50" textLength="6.84" lengthAdjust="spacingAndGlyphs">l</text><text x="667.12" y="412.50" textLength="17.13" lengthAdjust="spacingAndGlyphs">d</text><text x="685.05" y="412.50" textLength="6.84" lengthAdjust="spacingAndGlyphs">i</text><text x="692.66" y="412.50" textLength="17.13" lengthAdjust="spacingAndGlyphs">n</text><text x="710.43" y="412.50" textLength="17.13" lengthAdjust="spacingAndGlyphs">g</text><text x="727.47" y="412.50" textLength="15.40" lengthAdjust="spacingAndGlyphs">s</text><text x="751.70" y="412.50" textLength="10.26" lengthAdjust="spacingAndGlyphs">(</text><text x="760.57" y="412.50" textLength="20.54" lengthAdjust="spacingAndGlyphs">Y</text><text x="778.54" y="412.50" textLength="18.82" lengthAdjust="spacingAndGlyphs">T</text><text x="796.15" y="412.50" textLength="22.24" lengthAdjust="spacingAndGlyphs">D</text><text x="825.61" y="412.50" textLength="22.24" lengthAdjust="spacingAndGlyphs">C</text><text x="846.82" y="412.50" textLength="17.13" lengthAdjust="spacingAndGlyphs">u</text><text x="865.06" y="412.50" textLength="25.66" lengthAdjust="spacingAndGlyphs">m</text><text x="891.83" y="412.50" textLength="17.13" lengthAdjust="spacingAndGlyphs">u</text><text x="909.74" y="412.50" textLength="6.84" lengthAdjust="spacingAndGlyphs">l</text><text x="917.07" y="412.50" textLength="17.13" lengthAdjust="spacingAndGlyphs">a</text><text x="935.42" y="412.50" textLength="8.56" lengthAdjust="spacingAndGlyphs">t</text><text x="945.66" y="412.50" textLength="6.84" lengthAdjust="spacingAndGlyphs">i</text><text x="953.56" y="412.50" textLength="15.40" lengthAdjust="spacingAndGlyphs">v</text><text x="969.59" y="412.50" textLength="17.13" lengthAdjust="spacingAndGlyphs">e</text><text x="986.94" y="412.50" textLength="8.56" lengthAdjust="spacingAndGlyphs">,</text><text x="1000.99" y="412.50" textLength="20.54" lengthAdjust="spacingAndGlyphs">Y</text><text x="1017.96" y="412.50" textLength="17.13" lengthAdjust="spacingAndGlyphs">o</text><text x="1033.36" y="412.50" textLength="20.54" lengthAdjust="spacingAndGlyphs">Y</text><text x="1052.53" y="412.50" textLength="10.26" lengthAdjust="spacingAndGlyphs">)</text></g>
<rect x="70" y="444" width="32" height="4" fill="#f2b43d"/>
<g font-size="29.40" fill="#000" ><text x="110.58" y="454.50" textLength="22.41" lengthAdjust="spacingAndGlyphs">C</text><text x="131.79" y="454.50" textLength="17.26" lengthAdjust="spacingAndGlyphs">h</text><text x="149.74" y="454.50" textLength="6.89" lengthAdjust="spacingAndGlyphs">i</text><text x="157.32" y="454.50" textLength="17.26" lengthAdjust="spacingAndGlyphs">n</text><text x="174.77" y="454.50" textLength="17.26" lengthAdjust="spacingAndGlyphs">a</text><text x="200.76" y="454.50" textLength="10.34" lengthAdjust="spacingAndGlyphs">-</text><text x="218.46" y="454.50" textLength="18.95" lengthAdjust="spacingAndGlyphs">F</text><text x="236.44" y="454.50" textLength="6.89" lengthAdjust="spacingAndGlyphs">l</text><text x="243.71" y="454.50" textLength="17.26" lengthAdjust="spacingAndGlyphs">o</text><text x="260.83" y="454.50" textLength="17.26" lengthAdjust="spacingAndGlyphs">o</text><text x="278.62" y="454.50" textLength="10.34" lengthAdjust="spacingAndGlyphs">r</text><text x="297.68" y="454.50" textLength="20.69" lengthAdjust="spacingAndGlyphs">A</text><text x="317.88" y="454.50" textLength="10.34" lengthAdjust="spacingAndGlyphs">r</text><text x="328.48" y="454.50" textLength="17.26" lengthAdjust="spacingAndGlyphs">e</text><text x="345.68" y="454.50" textLength="17.26" lengthAdjust="spacingAndGlyphs">a</text><text x="371.72" y="454.50" textLength="17.26" lengthAdjust="spacingAndGlyphs">o</text><text x="389.53" y="454.50" textLength="8.62" lengthAdjust="spacingAndGlyphs">f</text><text x="406.93" y="454.50" textLength="20.69" lengthAdjust="spacingAndGlyphs">B</text><text x="427.12" y="454.50" textLength="17.26" lengthAdjust="spacingAndGlyphs">u</text><text x="445.06" y="454.50" textLength="6.89" lengthAdjust="spacingAndGlyphs">i</text><text x="452.84" y="454.50" textLength="6.89" lengthAdjust="spacingAndGlyphs">l</text><text x="460.44" y="454.50" textLength="17.26" lengthAdjust="spacingAndGlyphs">d</text><text x="478.40" y="454.50" textLength="6.89" lengthAdjust="spacingAndGlyphs">i</text><text x="485.98" y="454.50" textLength="17.26" lengthAdjust="spacingAndGlyphs">n</text><text x="503.74" y="454.50" textLength="17.26" lengthAdjust="spacingAndGlyphs">g</text><text x="520.79" y="454.50" textLength="15.51" lengthAdjust="spacingAndGlyphs">s</text><text x="544.99" y="454.50" textLength="17.26" lengthAdjust="spacingAndGlyphs">u</text><text x="562.73" y="454.50" textLength="17.26" lengthAdjust="spacingAndGlyphs">n</text><text x="580.50" y="454.50" textLength="17.26" lengthAdjust="spacingAndGlyphs">d</text><text x="597.99" y="454.50" textLength="17.26" lengthAdjust="spacingAndGlyphs">e</text><text x="615.82" y="454.50" textLength="10.34" lengthAdjust="spacingAndGlyphs">r</text><text x="634.22" y="454.50" textLength="22.41" lengthAdjust="spacingAndGlyphs">C</text><text x="655.13" y="454.50" textLength="17.26" lengthAdjust="spacingAndGlyphs">o</text><text x="672.57" y="454.50" textLength="17.26" lengthAdjust="spacingAndGlyphs">n</text><text x="689.61" y="454.50" textLength="15.51" lengthAdjust="spacingAndGlyphs">s</text><text x="705.84" y="454.50" textLength="8.62" lengthAdjust="spacingAndGlyphs">t</text><text x="716.23" y="454.50" textLength="10.34" lengthAdjust="spacingAndGlyphs">r</text><text x="727.39" y="454.50" textLength="17.26" lengthAdjust="spacingAndGlyphs">u</text><text x="744.84" y="454.50" textLength="15.51" lengthAdjust="spacingAndGlyphs">c</text><text x="761.47" y="454.50" textLength="8.62" lengthAdjust="spacingAndGlyphs">t</text><text x="771.72" y="454.50" textLength="6.89" lengthAdjust="spacingAndGlyphs">i</text><text x="778.99" y="454.50" textLength="17.26" lengthAdjust="spacingAndGlyphs">o</text><text x="796.43" y="454.50" textLength="17.26" lengthAdjust="spacingAndGlyphs">n</text><text x="823.13" y="454.50" textLength="10.34" lengthAdjust="spacingAndGlyphs">(</text><text x="831.96" y="454.50" textLength="20.69" lengthAdjust="spacingAndGlyphs">Y</text><text x="849.93" y="454.50" textLength="18.95" lengthAdjust="spacingAndGlyphs">T</text><text x="867.54" y="454.50" textLength="22.41" lengthAdjust="spacingAndGlyphs">D</text><text x="896.99" y="454.50" textLength="22.41" lengthAdjust="spacingAndGlyphs">C</text><text x="918.22" y="454.50" textLength="17.26" lengthAdjust="spacingAndGlyphs">u</text><text x="936.43" y="454.50" textLength="25.85" lengthAdjust="spacingAndGlyphs">m</text><text x="963.24" y="454.50" textLength="17.26" lengthAdjust="spacingAndGlyphs">u</text><text x="981.19" y="454.50" textLength="6.89" lengthAdjust="spacingAndGlyphs">l</text><text x="988.47" y="454.50" textLength="17.26" lengthAdjust="spacingAndGlyphs">a</text><text x="1006.85" y="454.50" textLength="8.62" lengthAdjust="spacingAndGlyphs">t</text><text x="1017.09" y="454.50" textLength="6.89" lengthAdjust="spacingAndGlyphs">i</text><text x="1024.96" y="454.50" textLength="15.51" lengthAdjust="spacingAndGlyphs">v</text><text x="1040.99" y="454.50" textLength="17.26" lengthAdjust="spacingAndGlyphs">e</text><text x="1058.37" y="454.50" textLength="8.62" lengthAdjust="spacingAndGlyphs">,</text><text x="1074.24" y="454.50" textLength="20.69" lengthAdjust="spacingAndGlyphs">Y</text><text x="1091.62" y="454.50" textLength="31.02" lengthAdjust="spacingAndGlyphs">…</text></g>
<rect x="70" y="486" width="32" height="4" fill="#38b999"/>
<g font-size="29.40" fill="#000" ><text x="110.68" y="496.50" textLength="22.19" lengthAdjust="spacingAndGlyphs">C</text><text x="131.88" y="496.50" textLength="17.09" lengthAdjust="spacingAndGlyphs">h</text><text x="149.77" y="496.50" textLength="6.83" lengthAdjust="spacingAndGlyphs">i</text><text x="157.40" y="496.50" textLength="17.09" lengthAdjust="spacingAndGlyphs">n</text><text x="174.85" y="496.50" textLength="17.09" lengthAdjust="spacingAndGlyphs">a</text><text x="200.81" y="496.50" textLength="10.24" lengthAdjust="spacingAndGlyphs">-</text><text x="218.55" y="496.50" textLength="18.77" lengthAdjust="spacingAndGlyphs">F</text><text x="236.47" y="496.50" textLength="6.83" lengthAdjust="spacingAndGlyphs">l</text><text x="243.79" y="496.50" textLength="17.09" lengthAdjust="spacingAndGlyphs">o</text><text x="260.91" y="496.50" textLength="17.09" lengthAdjust="spacingAndGlyphs">o</text><text x="278.67" y="496.50" textLength="10.24" lengthAdjust="spacingAndGlyphs">r</text><text x="297.77" y="496.50" textLength="20.50" lengthAdjust="spacingAndGlyphs">A</text><text x="317.93" y="496.50" textLength="10.24" lengthAdjust="spacingAndGlyphs">r</text><text x="328.56" y="496.50" textLength="17.09" lengthAdjust="spacingAndGlyphs">e</text><text x="345.76" y="496.50" textLength="17.09" lengthAdjust="spacingAndGlyphs">a</text><text x="371.80" y="496.50" textLength="17.09" lengthAdjust="spacingAndGlyphs">o</text><text x="389.57" y="496.50" textLength="8.54" lengthAdjust="spacingAndGlyphs">f</text><text x="407.02" y="496.50" textLength="20.50" lengthAdjust="spacingAndGlyphs">B</text><text x="427.20" y="496.50" textLength="17.09" lengthAdjust="spacingAndGlyphs">u</text><text x="445.09" y="496.50" textLength="6.83" lengthAdjust="spacingAndGlyphs">i</text><text x="452.88" y="496.50" textLength="6.83" lengthAdjust="spacingAndGlyphs">l</text><text x="460.52" y="496.50" textLength="17.09" lengthAdjust="spacingAndGlyphs">d</text><text x="478.43" y="496.50" textLength="6.83" lengthAdjust="spacingAndGlyphs">i</text><text x="486.06" y="496.50" textLength="17.09" lengthAdjust="spacingAndGlyphs">n</text><text x="503.82" y="496.50" textLength="17.09" lengthAdjust="spacingAndGlyphs">g</text><text x="520.86" y="496.50" textLength="15.36" lengthAdjust="spacingAndGlyphs">s</text><text x="543.42" y="496.50" textLength="22.19" lengthAdjust="spacingAndGlyphs">C</text><text x="564.31" y="496.50" textLength="17.09" lengthAdjust="spacingAndGlyphs">o</text><text x="582.26" y="496.50" textLength="25.60" lengthAdjust="spacingAndGlyphs">m</text><text x="609.04" y="496.50" textLength="17.09" lengthAdjust="spacingAndGlyphs">p</text><text x="626.95" y="496.50" textLength="6.83" lengthAdjust="spacingAndGlyphs">l</text><text x="634.32" y="496.50" textLength="17.09" lengthAdjust="spacingAndGlyphs">e</text><text x="652.70" y="496.50" textLength="8.54" lengthAdjust="spacingAndGlyphs">t</text><text x="662.52" y="496.50" textLength="17.09" lengthAdjust="spacingAndGlyphs">e</text><text x="680.02" y="496.50" textLength="17.09" lengthAdjust="spacingAndGlyphs">d</text><text x="706.69" y="496.50" textLength="10.24" lengthAdjust="spacingAndGlyphs">(</text><text x="715.59" y="496.50" textLength="20.50" lengthAdjust="spacingAndGlyphs">Y</text><text x="733.55" y="496.50" textLength="18.77" lengthAdjust="spacingAndGlyphs">T</text><text x="751.18" y="496.50" textLength="22.19" lengthAdjust="spacingAndGlyphs">D</text><text x="780.62" y="496.50" textLength="22.19" lengthAdjust="spacingAndGlyphs">C</text><text x="801.83" y="496.50" textLength="17.09" lengthAdjust="spacingAndGlyphs">u</text><text x="820.08" y="496.50" textLength="25.60" lengthAdjust="spacingAndGlyphs">m</text><text x="846.85" y="496.50" textLength="17.09" lengthAdjust="spacingAndGlyphs">u</text><text x="864.74" y="496.50" textLength="6.83" lengthAdjust="spacingAndGlyphs">l</text><text x="872.09" y="496.50" textLength="17.09" lengthAdjust="spacingAndGlyphs">a</text><text x="890.42" y="496.50" textLength="8.54" lengthAdjust="spacingAndGlyphs">t</text><text x="900.66" y="496.50" textLength="6.83" lengthAdjust="spacingAndGlyphs">i</text><text x="908.57" y="496.50" textLength="15.36" lengthAdjust="spacingAndGlyphs">v</text><text x="924.60" y="496.50" textLength="17.09" lengthAdjust="spacingAndGlyphs">e</text><text x="941.94" y="496.50" textLength="8.54" lengthAdjust="spacingAndGlyphs">,</text><text x="956.00" y="496.50" textLength="20.50" lengthAdjust="spacingAndGlyphs">Y</text><text x="972.96" y="496.50" textLength="17.09" lengthAdjust="spacingAndGlyphs">o</text><text x="988.38" y="496.50" textLength="20.50" lengthAdjust="spacingAndGlyphs">Y</text><text x="1007.52" y="496.50" textLength="10.24" lengthAdjust="spacingAndGlyphs">)</text></g>
<rect x="70" y="528" width="32" height="4" fill="#35a9d9"/>
<g font-size="29.40" fill="#000" ><text x="110.68" y="538.50" textLength="22.21" lengthAdjust="spacingAndGlyphs">C</text><text x="131.87" y="538.50" textLength="17.11" lengthAdjust="spacingAndGlyphs">h</text><text x="149.77" y="538.50" textLength="6.83" lengthAdjust="spacingAndGlyphs">i</text><text x="157.39" y="538.50" textLength="17.11" lengthAdjust="spacingAndGlyphs">n</text><text x="174.84" y="538.50" textLength="17.11" lengthAdjust="spacingAndGlyphs">a</text><text x="200.81" y="538.50" textLength="10.25" lengthAdjust="spacingAndGlyphs">-</text><text x="218.54" y="538.50" textLength="18.79" lengthAdjust="spacingAndGlyphs">F</text><text x="236.47" y="538.50" textLength="6.83" lengthAdjust="spacingAndGlyphs">l</text><text x="243.78" y="538.50" textLength="17.11" lengthAdjust="spacingAndGlyphs">o</text><text x="260.91" y="538.50" textLength="17.11" lengthAdjust="spacingAndGlyphs">o</text><text x="278.67" y="538.50" textLength="10.25" lengthAdjust="spacingAndGlyphs">r</text><text x="297.77" y="538.50" textLength="20.52" lengthAdjust="spacingAndGlyphs">A</text><text x="317.92" y="538.50" textLength="10.25" lengthAdjust="spacingAndGlyphs">r</text><text x="328.56" y="538.50" textLength="17.11" lengthAdjust="spacingAndGlyphs">e</text><text x="345.75" y="538.50" textLength="17.11" lengthAdjust="spacingAndGlyphs">a</text><text x="371.79" y="538.50" textLength="17.11" lengthAdjust="spacingAndGlyphs">o</text><text x="389.57" y="538.50" textLength="8.55" lengthAdjust="spacingAndGlyphs">f</text><text x="406.33" y="538.50" textLength="22.21" lengthAdjust="spacingAndGlyphs">C</text><text x="427.23" y="538.50" textLength="17.11" lengthAdjust="spacingAndGlyphs">o</text><text x="445.17" y="538.50" textLength="25.62" lengthAdjust="spacingAndGlyphs">m</text><text x="472.45" y="538.50" textLength="25.62" lengthAdjust="spacingAndGlyphs">m</text><text x="498.96" y="538.50" textLength="17.11" lengthAdjust="spacingAndGlyphs">e</text><text x="516.46" y="538.50" textLength="10.25" lengthAdjust="spacingAndGlyphs">r</text><text x="527.03" y="538.50" textLength="15.38" lengthAdjust="spacingAndGlyphs">c</text><text x="542.89" y="538.50" textLength="6.83" lengthAdjust="spacingAndGlyphs">i</text><text x="550.22" y="538.50" textLength="17.11" lengthAdjust="spacingAndGlyphs">a</text><text x="567.83" y="538.50" textLength="6.83" lengthAdjust="spacingAndGlyphs">l</text><text x="575.61" y="538.50" textLength="6.83" lengthAdjust="spacingAndGlyphs">i</text><text x="582.58" y="538.50" textLength="15.38" lengthAdjust="spacingAndGlyphs">z</text><text x="597.67" y="538.50" textLength="17.11" lengthAdjust="spacingAndGlyphs">e</text><text x="615.17" y="538.50" textLength="17.11" lengthAdjust="spacingAndGlyphs">d</text><text x="640.93" y="538.50" textLength="22.21" lengthAdjust="spacingAndGlyphs">H</text><text x="662.58" y="538.50" textLength="17.11" lengthAdjust="spacingAndGlyphs">o</text><text x="680.02" y="538.50" textLength="17.11" lengthAdjust="spacingAndGlyphs">u</text><text x="697.05" y="538.50" textLength="15.38" lengthAdjust="spacingAndGlyphs">s</text><text x="712.51" y="538.50" textLength="6.83" lengthAdjust="spacingAndGlyphs">i</text><text x="720.13" y="538.50" textLength="17.11" lengthAdjust="spacingAndGlyphs">n</text><text x="737.89" y="538.50" textLength="17.11" lengthAdjust="spacingAndGlyphs">g</text><text x="762.86" y="538.50" textLength="20.52" lengthAdjust="spacingAndGlyphs">S</text><text x="782.02" y="538.50" textLength="17.11" lengthAdjust="spacingAndGlyphs">o</text><text x="799.61" y="538.50" textLength="6.83" lengthAdjust="spacingAndGlyphs">l</text><text x="807.24" y="538.50" textLength="17.11" lengthAdjust="spacingAndGlyphs">d</text><text x="833.92" y="538.50" textLength="10.25" lengthAdjust="spacingAndGlyphs">(</text><text x="842.80" y="538.50" textLength="20.52" lengthAdjust="spacingAndGlyphs">Y</text><text x="860.77" y="538.50" textLength="18.79" lengthAdjust="spacingAndGlyphs">T</text><text x="878.39" y="538.50" textLength="22.21" lengthAdjust="spacingAndGlyphs">D</text><text x="907.85" y="538.50" textLength="22.21" lengthAdjust="spacingAndGlyphs">C</text><text x="929.05" y="538.50" textLength="17.11" lengthAdjust="spacingAndGlyphs">u</text><text x="947.31" y="538.50" textLength="25.62" lengthAdjust="spacingAndGlyphs">m</text><text x="974.07" y="538.50" textLength="17.11" lengthAdjust="spacingAndGlyphs">u</text><text x="991.97" y="538.50" textLength="6.83" lengthAdjust="spacingAndGlyphs">l</text><text x="999.30" y="538.50" textLength="17.11" lengthAdjust="spacingAndGlyphs">a</text><text x="1017.65" y="538.50" textLength="8.55" lengthAdjust="spacingAndGlyphs">t</text><text x="1027.89" y="538.50" textLength="6.83" lengthAdjust="spacingAndGlyphs">i</text><text x="1035.79" y="538.50" textLength="15.38" lengthAdjust="spacingAndGlyphs">v</text><text x="1051.82" y="538.50" textLength="17.11" lengthAdjust="spacingAndGlyphs">e</text><text x="1069.16" y="538.50" textLength="8.55" lengthAdjust="spacingAndGlyphs">,</text><text x="1085.09" y="538.50" textLength="20.52" lengthAdjust="spacingAndGlyphs">Y</text><text x="1102.52" y="538.50" textLength="30.76" lengthAdjust="spacingAndGlyphs">…</text></g>
<rect x="70" y="570" width="32" height="4" fill="#7a5548"/>
<g font-size="29.40" fill="#000" ><text x="110.68" y="580.50" textLength="22.21" lengthAdjust="spacingAndGlyphs">C</text><text x="131.87" y="580.50" textLength="17.11" lengthAdjust="spacingAndGlyphs">h</text><text x="149.77" y="580.50" textLength="6.83" lengthAdjust="spacingAndGlyphs">i</text><text x="157.39" y="580.50" textLength="17.11" lengthAdjust="spacingAndGlyphs">n</text><text x="174.85" y="580.50" textLength="17.11" lengthAdjust="spacingAndGlyphs">a</text><text x="200.81" y="580.50" textLength="10.24" lengthAdjust="spacingAndGlyphs">-</text><text x="217.78" y="580.50" textLength="18.79" lengthAdjust="spacingAndGlyphs">F</text><text x="234.78" y="580.50" textLength="17.11" lengthAdjust="spacingAndGlyphs">u</text><text x="252.53" y="580.50" textLength="17.11" lengthAdjust="spacingAndGlyphs">n</text><text x="270.28" y="580.50" textLength="17.11" lengthAdjust="spacingAndGlyphs">d</text><text x="287.33" y="580.50" textLength="15.38" lengthAdjust="spacingAndGlyphs">s</text><text x="311.69" y="580.50" textLength="6.83" lengthAdjust="spacingAndGlyphs">i</text><text x="319.31" y="580.50" textLength="17.11" lengthAdjust="spacingAndGlyphs">n</text><text x="343.82" y="580.50" textLength="20.51" lengthAdjust="spacingAndGlyphs">P</text><text x="363.00" y="580.50" textLength="6.83" lengthAdjust="spacingAndGlyphs">l</text><text x="370.33" y="580.50" textLength="17.11" lengthAdjust="spacingAndGlyphs">a</text><text x="387.47" y="580.50" textLength="15.38" lengthAdjust="spacingAndGlyphs">c</text><text x="402.92" y="580.50" textLength="17.11" lengthAdjust="spacingAndGlyphs">e</text><text x="429.63" y="580.50" textLength="8.55" lengthAdjust="spacingAndGlyphs">f</text><text x="438.85" y="580.50" textLength="17.11" lengthAdjust="spacingAndGlyphs">o</text><text x="456.60" y="580.50" textLength="10.24" lengthAdjust="spacingAndGlyphs">r</text><text x="474.38" y="580.50" textLength="22.21" lengthAdjust="spacingAndGlyphs">R</text><text x="494.64" y="580.50" textLength="17.11" lengthAdjust="spacingAndGlyphs">e</text><text x="511.83" y="580.50" textLength="17.11" lengthAdjust="spacingAndGlyphs">a</text><text x="529.44" y="580.50" textLength="6.83" lengthAdjust="spacingAndGlyphs">l</text><text x="544.24" y="580.50" textLength="20.51" lengthAdjust="spacingAndGlyphs">E</text><text x="562.95" y="580.50" textLength="15.38" lengthAdjust="spacingAndGlyphs">s</text><text x="579.14" y="580.50" textLength="8.55" lengthAdjust="spacingAndGlyphs">t</text><text x="588.92" y="580.50" textLength="17.11" lengthAdjust="spacingAndGlyphs">a</text><text x="607.27" y="580.50" textLength="8.55" lengthAdjust="spacingAndGlyphs">t</text><text x="617.10" y="580.50" textLength="17.11" lengthAdjust="spacingAndGlyphs">e</text><text x="642.84" y="580.50" textLength="22.21" lengthAdjust="spacingAndGlyphs">D</text><text x="664.78" y="580.50" textLength="17.11" lengthAdjust="spacingAndGlyphs">e</text><text x="682.55" y="580.50" textLength="15.38" lengthAdjust="spacingAndGlyphs">v</text><text x="698.58" y="580.50" textLength="17.11" lengthAdjust="spacingAndGlyphs">e</text><text x="716.22" y="580.50" textLength="6.83" lengthAdjust="spacingAndGlyphs">l</text><text x="723.54" y="580.50" textLength="17.11" lengthAdjust="spacingAndGlyphs">o</text><text x="740.99" y="580.50" textLength="17.11" lengthAdjust="spacingAndGlyphs">p</text><text x="759.26" y="580.50" textLength="25.62" lengthAdjust="spacingAndGlyphs">m</text><text x="785.77" y="580.50" textLength="17.11" lengthAdjust="spacingAndGlyphs">e</text><text x="803.25" y="580.50" textLength="17.11" lengthAdjust="spacingAndGlyphs">n</text><text x="821.90" y="580.50" textLength="8.55" lengthAdjust="spacingAndGlyphs">t</text><text x="839.15" y="580.50" textLength="20.51" lengthAdjust="spacingAndGlyphs">E</text><text x="858.57" y="580.50" textLength="17.11" lengthAdjust="spacingAndGlyphs">n</text><text x="877.21" y="580.50" textLength="8.55" lengthAdjust="spacingAndGlyphs">t</text><text x="887.03" y="580.50" textLength="17.11" lengthAdjust="spacingAndGlyphs">e</text><text x="904.84" y="580.50" textLength="10.24" lengthAdjust="spacingAndGlyphs">r</text><text x="916.05" y="580.50" textLength="17.11" lengthAdjust="spacingAndGlyphs">p</text><text x="934.12" y="580.50" textLength="10.24" lengthAdjust="spacingAndGlyphs">r</text><text x="945.47" y="580.50" textLength="6.83" lengthAdjust="spacingAndGlyphs">i</text><text x="952.38" y="580.50" textLength="15.38" lengthAdjust="spacingAndGlyphs">s</text><text x="967.42" y="580.50" textLength="17.11" lengthAdjust="spacingAndGlyphs">e</text><text x="984.20" y="580.50" textLength="15.38" lengthAdjust="spacingAndGlyphs">s</text><text x="1008.42" y="580.50" textLength="10.24" lengthAdjust="spacingAndGlyphs">(</text><text x="1017.30" y="580.50" textLength="20.51" lengthAdjust="spacingAndGlyphs">Y</text><text x="1035.27" y="580.50" textLength="18.79" lengthAdjust="spacingAndGlyphs">T</text><text x="1052.89" y="580.50" textLength="22.21" lengthAdjust="spacingAndGlyphs">D</text><text x="1082.30" y="580.50" textLength="30.75" lengthAdjust="spacingAndGlyphs">…</text></g>
</svg>
</body></html>
